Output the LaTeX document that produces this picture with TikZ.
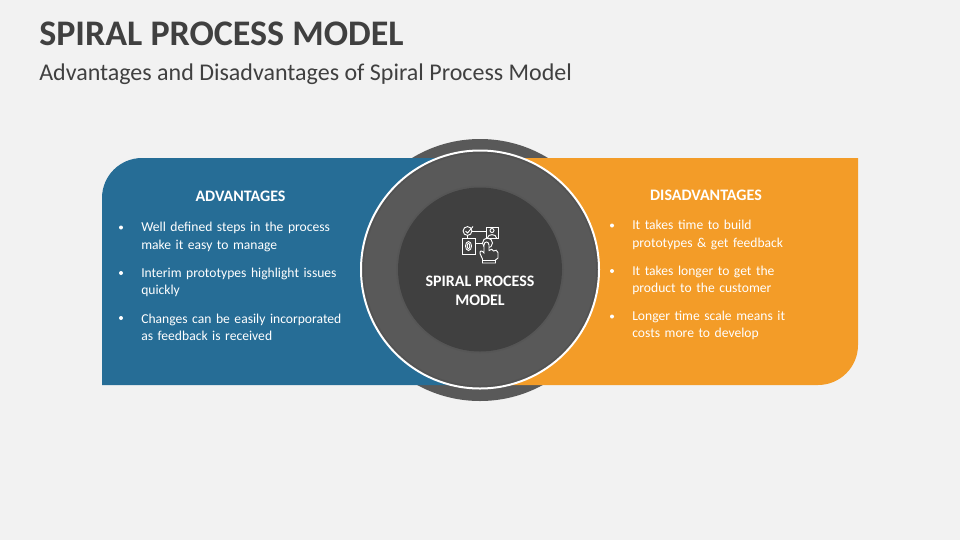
\documentclass[tikz,border=0pt]{standalone}
\usepackage{fontspec}
\setmainfont{Carlito}
\usetikzlibrary{positioning}
\definecolor{pagebg}{HTML}{F2F2F2}
\definecolor{advblue}{HTML}{266D96}
\definecolor{disorange}{HTML}{F39C28}
\definecolor{ringgrey}{HTML}{595959}
\definecolor{coregrey}{HTML}{404040}
\tikzset{
  headtext/.style={text=white,font=\fontsize{12}{14}\selectfont\bfseries,inner sep=0pt},
  bullettext/.style={text=white,font=\fontsize{10.2}{12.9}\selectfont,align=left,anchor=west,inner sep=0pt,text width=170pt},
  dotmark/.style={circle,fill=white,inner sep=0pt,minimum size=3pt},
  iconline/.style={draw=white,line width=0.7pt},
}
\begin{document}
\begin{tikzpicture}[x=0.75pt,y=-0.75pt]
\fill[pagebg] (0,0) rectangle (960,540);
\useasboundingbox (0,0) rectangle (960,540);
% titles
\node[anchor=west,inner sep=0pt,text=coregrey,font=\fontsize{27}{32}\selectfont\bfseries] (title) at (39,34) {SPIRAL PROCESS MODEL};
\node[anchor=west,inner sep=0pt,text=coregrey,font=\fontsize{18}{22}\selectfont] (subtitle) at (39,74) {Advantages and Disadvantages of Spiral Process Model};
% panels
\fill[ringgrey] (480,270) circle[radius=131];
\fill[advblue] (480,158) -- (142,158) arc[start angle=-90,end angle=-180,radius=40] -- (102,385) -- (480,385) -- cycle;
\fill[disorange] (480,158) -- (858,158) -- (858,345) arc[start angle=0,end angle=90,radius=40] -- (480,385) -- cycle;
\fill[ringgrey,draw=white,line width=1.5pt] (480,269.5) circle[radius=119];
% soft edges of the ring and the core
\foreach \r in {116.5,117.5}
  \draw[black,opacity=0.06,line width=0.75pt] (480,269.5) circle[radius=\r];
\foreach \r in {82.5,83.5}
  \draw[black,opacity=0.025,line width=0.75pt] (480,269.5) circle[radius=\r];
\fill[coregrey] (480,269.5) circle[radius=82];
% left panel
\node[headtext] (advhead) at (240.5,196) {ADVANTAGES};
\node[bullettext] (adv1) at (141,237) {Well defined steps in the process\\make it easy to manage};
\node[bullettext] (adv2) at (141,282.5) {Interim prototypes highlight issues\\quickly};
\node[bullettext] (adv3) at (141,327.5) {Changes can be easily incorporated\\as feedback is received};
\node[dotmark] at (121,227.5) {};
\node[dotmark] at (121,273) {};
\node[dotmark] at (121,318) {};
% right panel
\node[headtext] (dishead) at (706,195) {DISADVANTAGES};
\node[bullettext] (dis1) at (632,235) {It takes time to build\\prototypes \& get feedback};
\node[bullettext] (dis2) at (632,280.5) {It takes longer to get the\\product to the customer};
\node[bullettext] (dis3) at (632,325.5) {Longer time scale means it\\costs more to develop};
\node[dotmark] at (612,225.5) {};
\node[dotmark] at (612,271) {};
\node[dotmark] at (612,316.5) {};
% centre text
\node[text=white,font=\fontsize{12}{14}\selectfont\bfseries,align=center,inner sep=0pt] (core) at (480,290.5) {SPIRAL PROCESS\\MODEL};
% icon
\draw[iconline] (467.5,231) circle[radius=4.4];
\draw[iconline] (465.5,231) -- (467.5,233) -- (473,226.5);
\draw[iconline] (486,227) rectangle (498,238);
\draw[iconline] (472,231) -- (486,231);
\draw[iconline] (492,230.5) circle[radius=2];
\draw[iconline] (487.5,238) .. controls (487.5,233.5) and (496.5,233.5) .. (496.5,238);
\draw[iconline] (467.5,235.4) -- (467.5,238.5);
\draw[iconline] (462,238.5) rectangle (475,254);
\draw[iconline] (468.5,246) ellipse[x radius=3,y radius=4.5];
\draw[iconline] (468.5,246) ellipse[x radius=1.3,y radius=2.6];
\draw[iconline] (475,243) -- (482.5,243);
\draw[iconline] (487.5,243) circle[radius=5];
\draw[iconline,fill=coregrey] (482.5,263) -- (482.5,259) -- (480,253.5) .. controls (479.5,250.5) and (482,250) .. (484,253) -- (484,245) .. controls (484,241) and (489,241) .. (489,245) -- (489,250.5) .. controls (491,248.5) and (493,249) .. (493.5,251) .. controls (495,249.5) and (497.5,250) .. (498,252.5) -- (498,258) -- (495.5,260) -- (495.5,263) -- cycle;
\draw[iconline] (482.5,260) -- (495.5,260);
\end{tikzpicture}
\end{document}
